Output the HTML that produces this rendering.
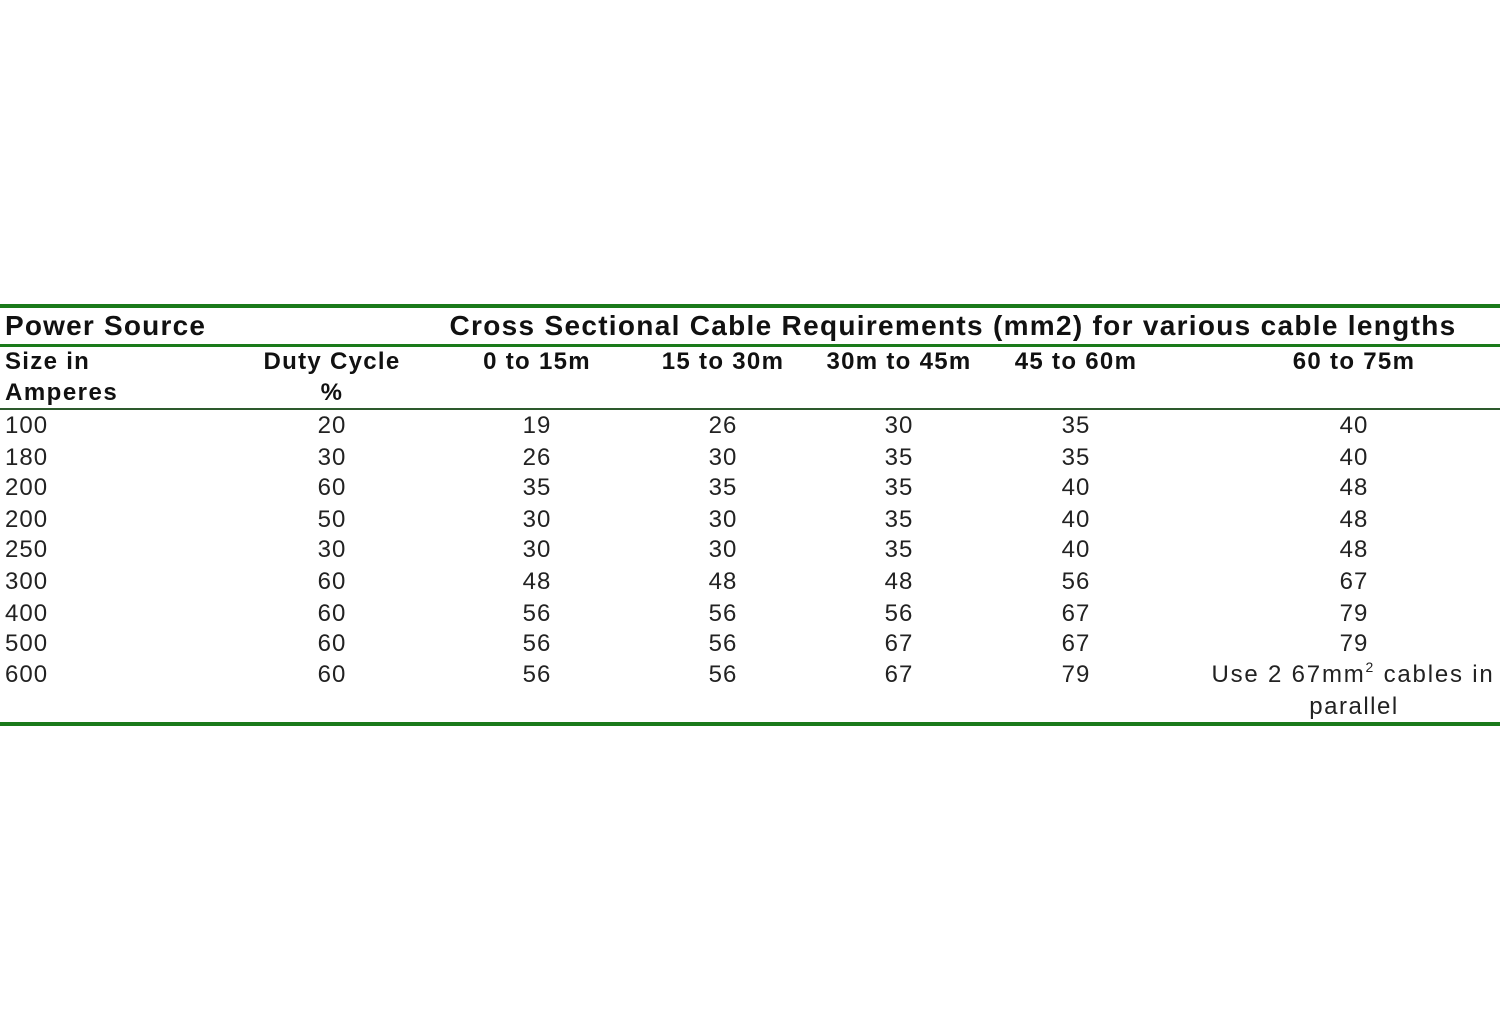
<!DOCTYPE html><html><head><style>
body{margin:0;width:1500px;height:1034px;background:#fff;position:relative;font-family:"Liberation Sans",Arial,sans-serif;color:#222;overflow:hidden}
.l{position:absolute;left:0;width:1500px;background:#1a7a1a}
.t{position:absolute;white-space:nowrap;line-height:1;transform:translate(-50%,-50%);font-size:24px;letter-spacing:1px}
.b{font-weight:bold;color:#111;letter-spacing:1.3px}
.a{transform:translate(0,-50%)}
</style></head><body>
<div class="l" style="top:304px;height:4px"></div>
<div class="l" style="top:344px;height:3px"></div>
<div class="l" style="top:408px;height:2px;background:#2d5a2d"></div>
<div class="l" style="top:722px;height:4px"></div>
<div class="t b a" style="left:5px;top:326px;font-size:28px;letter-spacing:1.2px">Power Source</div>
<div class="t b" style="left:953px;top:326px;font-size:28px;letter-spacing:1.3px">Cross Sectional Cable Requirements (mm2) for various cable lengths</div>
<div class="t b a" style="left:5px;top:362px">Size in</div>
<div class="t b a" style="left:5px;top:393px;letter-spacing:1.5px">Amperes</div>
<div class="t b" style="left:332px;top:362px">Duty Cycle</div>
<div class="t b" style="left:332px;top:393px">%</div>
<div class="t b" style="left:537px;top:362px">0 to 15m</div>
<div class="t b" style="left:723px;top:362px">15 to 30m</div>
<div class="t b" style="left:899px;top:362px">30m to 45m</div>
<div class="t b" style="left:1076px;top:362px">45 to 60m</div>
<div class="t b" style="left:1354px;top:362px">60 to 75m</div>
<div id="rows"></div>
<script>
var d=[[426,100,20,19,26,30,35,40],[458,180,30,26,30,35,35,40],[488,200,60,35,35,35,40,48],[520,200,50,30,30,35,40,48],[550,250,30,30,30,35,40,48],[582,300,60,48,48,48,56,67],[614,400,60,56,56,56,67,79],[644,500,60,56,56,67,67,79],[675,600,60,56,56,67,79,null]];
var xs=[332,537,723,899,1076,1354],h='';
d.forEach(function(r){h+='<div class="t a" style="left:5px;top:'+r[0]+'px">'+r[1]+'</div>';
for(var i=0;i<6;i++){if(r[i+2]!==null)h+='<div class="t" style="left:'+xs[i]+'px;top:'+r[0]+'px">'+r[i+2]+'</div>';}});
h+='<div class="t" style="left:1353px;top:675px;letter-spacing:1.8px">Use 2 67mm<sup style="font-size:14px;vertical-align:10px;line-height:0">2</sup> cables in</div>';
h+='<div class="t" style="left:1354px;top:707px;letter-spacing:1.5px">parallel</div>';
document.getElementById('rows').innerHTML=h;
</script>
</body></html>
